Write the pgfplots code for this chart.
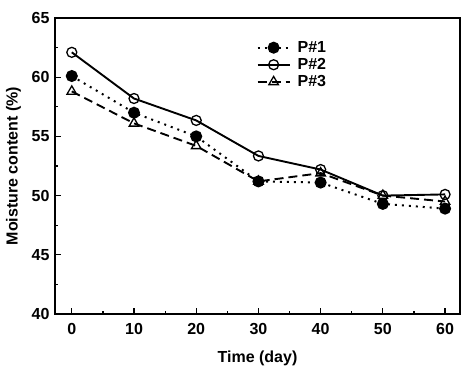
\documentclass[border=0pt]{standalone}
\usepackage{pgfplots}
\pgfplotsset{compat=1.18}
\usepackage{fontspec}
\setmainfont{Liberation Sans}
\begin{document}
\begin{tikzpicture}
\begin{axis}[
  name=ax,
  scale only axis,
  width=405bp, height=296bp,
  xmin=-2.7, xmax=62.4,
  ymin=40, ymax=65,
  xtick={0,10,...,60},
  ytick={40,45,...,65},
  minor x tick num=1,
  minor y tick num=1,
  tick align=inside,
  xtick pos=bottom, ytick pos=left,
  major tick length=6bp,
  minor tick length=3.5bp,
  every tick/.style={line width=1.2pt, black},
  axis line style={line width=1.5pt},
  font=\bfseries\fontsize{16bp}{18bp}\selectfont,
  tick label style={font=\bfseries\fontsize{16bp}{18bp}\selectfont},
  xticklabel style={yshift=-6bp},
  yticklabel style={xshift=-2bp},
  /pgf/number format/assume math mode=true,
  xlabel={Time (day)},
  ylabel={Moisture content (\%)},
  xlabel style={yshift=-9bp},
  ylabel style={yshift=4bp},
  legend style={draw=none, fill=none, at={(0.49,0.935)}, anchor=north west,
    font=\bfseries\fontsize{16bp}{18bp}\selectfont, row sep=0.5bp},
  legend cell align=left,
  legend image code/.code={
    \draw[#1] (0bp,0bp) -- (32bp,0bp);
    \draw[#1, only marks] plot coordinates {(16bp,0bp)};
  },
]
\addplot[black, line width=2pt, dash pattern=on 2pt off 5pt, mark=*, mark size=5bp, mark options={solid, fill=black}]
  coordinates {(0,60.1) (10,57.0) (20,55.0) (30,51.2) (40,51.1) (50,49.3) (60,48.9)};
\addlegendentry{\hspace{5bp}P\#1}
\addplot[black, line width=1.9pt, solid, mark=o, mark size=5bp, mark options={solid, fill=white, line width=1.3pt}]
  coordinates {(0,62.1) (10,58.2) (20,56.35) (30,53.35) (40,52.2) (50,50.0) (60,50.1)};
\addlegendentry{\hspace{5bp}P\#2}
\addplot[black, line width=1.9pt, dash pattern=on 9bp off 5bp, mark=triangle, mark size=5.5bp, mark options={solid, fill=white, line width=1.3pt}]
  coordinates {(0,58.8) (10,56.1) (20,54.2) (30,51.2) (40,51.9) (50,50.0) (60,49.5)};
\addlegendentry{\hspace{5bp}P\#3}
\end{axis}
\path (ax.south west) ++(-55bp,-58bp) coordinate (bl);
\path (ax.north east) ++(14bp,18bp) coordinate (tr);
\path (bl) rectangle (tr);
\end{tikzpicture}
\end{document}
